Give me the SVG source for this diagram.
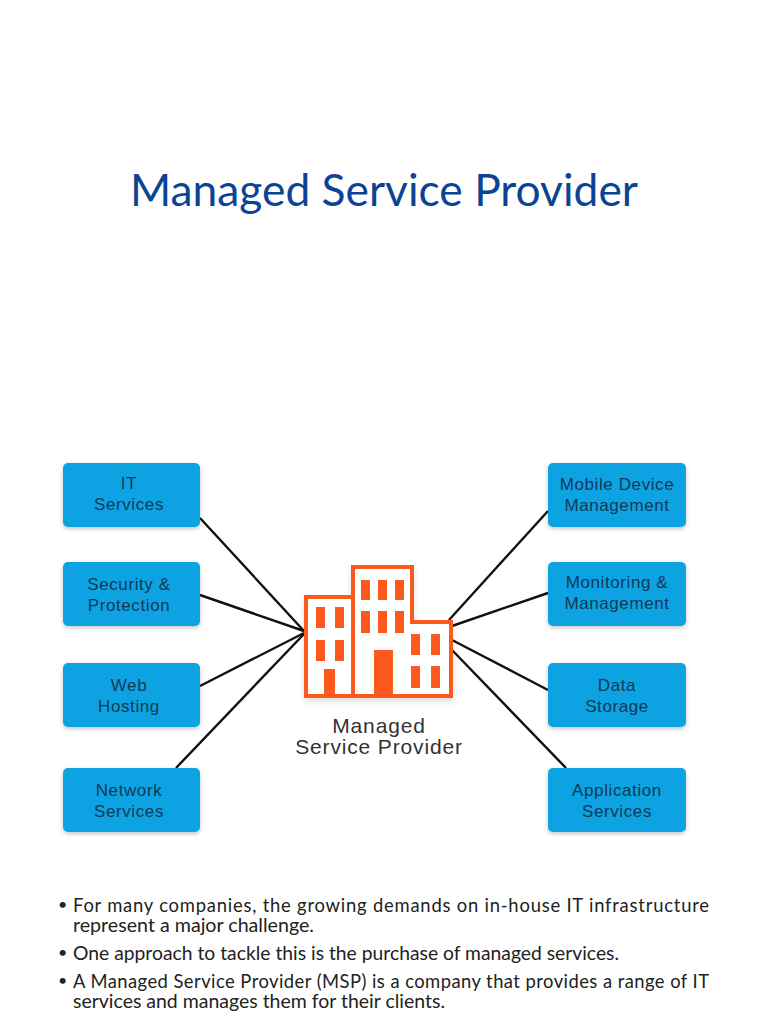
<svg xmlns="http://www.w3.org/2000/svg" width="768" height="1024" viewBox="0 0 768 1024">
<defs>
<filter id="sh" x="-10%" y="-10%" width="120%" height="125%"><feDropShadow dx="0" dy="2" stdDeviation="2" flood-color="#000" flood-opacity="0.22"/></filter>
<filter id="soft" x="-5%" y="-5%" width="110%" height="115%"><feDropShadow dx="0" dy="4" stdDeviation="3" flood-color="#000" flood-opacity="0.12"/></filter>
</defs>
<style>
.box{fill:#0aa2e2;filter:url(#sh)}
.lbl{font-family:"Liberation Sans",Arial,sans-serif;font-size:17px;fill:#0f3a55;text-anchor:middle;letter-spacing:.6px}
.cap{font-family:"Liberation Sans",Arial,sans-serif;font-size:21px;fill:#333;text-anchor:middle;letter-spacing:.85px}
.c{stroke:#111;stroke-width:2.4;fill:none}
.o{fill:#fff;stroke:#fb5a1c;stroke-width:4}
.w{fill:#fb5a1c}
.body{font-family:Lato,"Open Sans",sans-serif;font-size:18.4px;fill:#222}
.bu{font-family:Lato,"Open Sans",sans-serif;font-size:16px;fill:#222}
</style>
<rect width="768" height="1024" fill="#fff"/>
<text id="title" x="130" y="206" textLength="508" lengthAdjust="spacingAndGlyphs" font-family="Lato,'Open Sans',sans-serif" font-size="44" fill="#0b4494">Managed Service Provider</text>
<g id="connectors" class="c">
<line x1="200" y1="518" x2="304" y2="631"/>
<line x1="200" y1="595" x2="304" y2="631"/>
<line x1="200" y1="686" x2="304" y2="633"/>
<line x1="176" y1="768" x2="304" y2="634"/>
<line x1="548" y1="511" x2="449" y2="620"/>
<line x1="548" y1="593" x2="452" y2="626"/>
<line x1="548" y1="690" x2="452" y2="640"/>
<line x1="566" y1="768" x2="452" y2="650"/>
</g>
<g id="n1"><rect class="box" x="63" y="463" width="137" height="64" rx="5"/><text class="lbl" x="129" y="489">IT</text><text class="lbl" x="129" y="510">Services</text></g>
<g id="n2"><rect class="box" x="63" y="562" width="137" height="64" rx="5"/><text class="lbl" x="129" y="590">Security &amp;</text><text class="lbl" x="129" y="611">Protection</text></g>
<g id="n3"><rect class="box" x="63" y="663" width="137" height="64" rx="5"/><text class="lbl" x="129" y="691">Web</text><text class="lbl" x="129" y="712">Hosting</text></g>
<g id="n4"><rect class="box" x="63" y="768" width="137" height="64" rx="5"/><text class="lbl" x="129" y="796">Network</text><text class="lbl" x="129" y="817">Services</text></g>
<g id="n5"><rect class="box" x="548" y="463" width="138" height="64" rx="5"/><text class="lbl" x="617" y="490">Mobile Device</text><text class="lbl" x="617" y="511">Management</text></g>
<g id="n6"><rect class="box" x="548" y="562" width="138" height="64" rx="5"/><text class="lbl" x="617" y="588">Monitoring &amp;</text><text class="lbl" x="617" y="609">Management</text></g>
<g id="n7"><rect class="box" x="548" y="663" width="138" height="64" rx="5"/><text class="lbl" x="617" y="691">Data</text><text class="lbl" x="617" y="712">Storage</text></g>
<g id="n8"><rect class="box" x="548" y="768" width="138" height="64" rx="5"/><text class="lbl" x="617" y="796">Application</text><text class="lbl" x="617" y="817">Services</text></g>
<g id="center">
<path class="o" filter="url(#soft)" d="M306 597H353V567H412V622H451V696H306Z"/>
<path d="M353 597V696" stroke="#fb5a1c" stroke-width="4" fill="none"/>
<g class="w">
<rect x="316" y="607" width="9" height="21"/><rect x="335" y="607" width="9" height="21"/>
<rect x="316" y="640" width="9" height="21"/><rect x="335" y="640" width="9" height="21"/>
<rect x="324" y="669" width="11" height="27"/>
<rect x="361" y="580" width="9" height="20"/><rect x="378" y="580" width="9" height="20"/><rect x="395" y="580" width="9" height="20"/>
<rect x="361" y="611" width="9" height="22"/><rect x="378" y="611" width="9" height="22"/><rect x="395" y="611" width="9" height="22"/>
<rect x="374" y="650" width="19" height="46"/>
<rect x="411" y="634" width="9" height="21"/><rect x="431" y="634" width="9" height="21"/>
<rect x="411" y="666" width="9" height="22"/><rect x="431" y="666" width="9" height="22"/>
</g>
<text class="cap" x="379" y="733">Managed</text><text class="cap" x="379" y="754">Service Provider</text>
</g>
<g id="body">
<text class="bu" x="58" y="910">•</text><text class="body" x="73" y="912" textLength="636">For many companies, the growing demands on in-house IT infrastructure</text>
<text class="body" x="73" y="932" textLength="241" lengthAdjust="spacingAndGlyphs">represent a major challenge.</text>
<text class="bu" x="58" y="958">•</text><text class="body" x="73" y="960" textLength="546" lengthAdjust="spacingAndGlyphs">One approach to tackle this is the purchase of managed services.</text>
<text class="bu" x="58" y="986">•</text><text class="body" x="73" y="988" textLength="636">A Managed Service Provider (MSP) is a company that provides a range of IT</text>
<text class="body" x="73" y="1008" textLength="372" lengthAdjust="spacingAndGlyphs">services and manages them for their clients.</text>
</g>
</svg>
